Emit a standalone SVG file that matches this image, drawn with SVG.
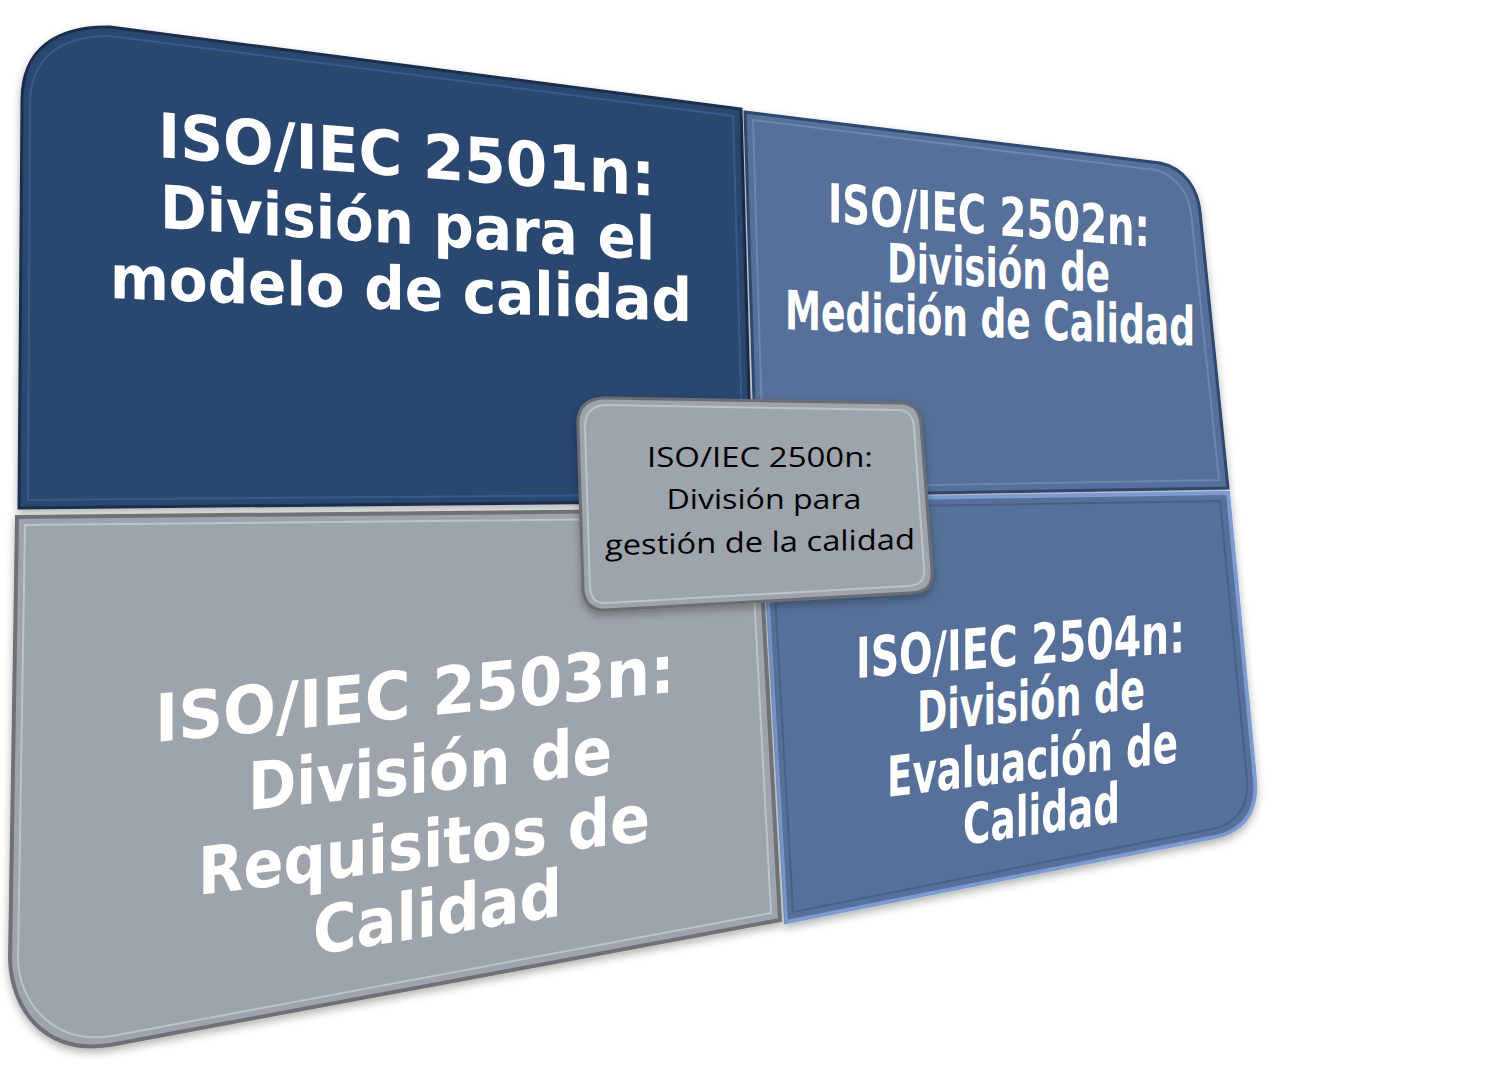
<svg xmlns="http://www.w3.org/2000/svg" width="1511" height="1079" viewBox="0 0 1511 1079">
<defs>
<style>
.t{fill:#fff;font-family:"DejaVu Sans",sans-serif;font-weight:bold}
.n{fill:#fff;font-family:"Liberation Sans Narrow","DejaVu Sans Condensed",sans-serif;font-weight:bold}
.c{fill:#000;font-family:"Open Sans","Noto Sans",sans-serif;font-size:28px}
.bev{fill:none;stroke-width:2;opacity:0.4}
</style>
<filter id="sh" x="-10%" y="-10%" width="120%" height="120%">
<feDropShadow dx="0" dy="4" stdDeviation="4" flood-color="#000" flood-opacity="0.3"/>
</filter>
</defs>
<g id="tl">
<path d="M22,100 C22,50 55,26 110,27 L741,109 L752,501 L19,508 Z" fill="#2A4770" stroke="#1B2E4D" stroke-width="3" filter="url(#sh)"/>
<path class="bev" d="M30,104 C30,58 60,36 110,36 L733,116 L744,494 L28,500 Z" stroke="#4A76BC"/>
<text class="t" transform="translate(158,157) skewY(4.5)" font-size="62" textLength="497" lengthAdjust="spacingAndGlyphs">ISO/IEC 2501n:</text>
<text class="t" transform="translate(160,228) skewY(3.7)" font-size="60" textLength="495" lengthAdjust="spacingAndGlyphs">División para el</text>
<text class="t" transform="translate(110,298) skewY(2.3)" font-size="60" textLength="582" lengthAdjust="spacingAndGlyphs">modelo de calidad</text>
</g>
<g id="tr">
<path d="M745,112 L1160,163 C1185,168 1198,190 1200,212 L1228,488 L757,496 Z" fill="#566F99" stroke="#2E4870" stroke-width="3" filter="url(#sh)"/>
<path class="bev" d="M753,120 L1156,170 C1177,176 1189,194 1191,214 L1219,480 L764,488 Z" stroke="#8AA8DA"/>
<text class="n" transform="translate(828,222) skewY(4.4)" font-size="54" textLength="322" lengthAdjust="spacingAndGlyphs">ISO/IEC 2502n:</text>
<text class="n" transform="translate(887,282) skewY(2.6)" font-size="54" textLength="223" lengthAdjust="spacingAndGlyphs">División de</text>
<text class="n" transform="translate(785,329) skewY(2.3)" font-size="54" textLength="410" lengthAdjust="spacingAndGlyphs">Medición de Calidad</text>
</g>
<g id="br">
<path d="M762,500 L1228,493 L1255,780 C1258,815 1240,832 1215,837 L786,922 Z" fill="#566F99" stroke="#7C9BD0" stroke-width="4" filter="url(#sh)"/>
<path class="bev" d="M770,508 L1220,501 L1247,780 C1249,810 1233,825 1212,829 L793,912 Z" stroke="#2E4870"/>
<text class="n" transform="translate(856,678) skewY(-4.5)" font-size="56" textLength="329" lengthAdjust="spacingAndGlyphs">ISO/IEC 2504n:</text>
<text class="n" transform="translate(917,732) skewY(-6)" font-size="56" textLength="228" lengthAdjust="spacingAndGlyphs">División de</text>
<text class="n" transform="translate(887,797) skewY(-6.9)" font-size="56" textLength="291" lengthAdjust="spacingAndGlyphs">Evaluación de</text>
<text class="n" transform="translate(963,845) skewY(-8.3)" font-size="56" textLength="157" lengthAdjust="spacingAndGlyphs">Calidad</text>
</g>
<g id="bl">
<path d="M17,517 L758,510 L780,920 L110,1045 C45,1055 12,1010 10,960 Z" fill="#9EA4AB" stroke="#6E7277" stroke-width="4" filter="url(#sh)"/>
<path class="bev" d="M25,525 L750,518 L771,913 L112,1036 C55,1045 20,1005 18,960 Z" stroke="#EEF2F8"/>
<text class="t" transform="translate(155,742) skewY(-5.5)" font-size="66" textLength="520" lengthAdjust="spacingAndGlyphs">ISO/IEC 2503n:</text>
<text class="t" transform="translate(248,810) skewY(-5.8)" font-size="66" textLength="364" lengthAdjust="spacingAndGlyphs">División de</text>
<text class="t" transform="translate(198,895) skewY(-6.9)" font-size="66" textLength="452" lengthAdjust="spacingAndGlyphs">Requisitos de</text>
<text class="t" transform="translate(313,955) skewY(-9)" font-size="66" textLength="249" lengthAdjust="spacingAndGlyphs">Calidad</text>
</g>
<g id="center">
<path d="M578,425 C577,405 590,398 605,398 L900,403 C915,403 920,412 921,425 L932,570 C933,588 925,592 910,593 L605,610 C590,611 584,600 583,590 Z" fill="#9EA4AB" stroke="#6A6E73" stroke-width="3" filter="url(#sh)"/>
<path class="bev" d="M585,426 C585,411 595,405 606,405 L898,410 C910,410 913,418 914,427 L924,568 C925,582 919,585 908,586 L606,603 C595,604 591,597 590,588 Z" stroke="#EEF2F8"/>
<text class="c" x="760" y="467" text-anchor="middle" textLength="226" lengthAdjust="spacingAndGlyphs">ISO/IEC 2500n:</text>
<text class="c" x="764" y="509" text-anchor="middle" textLength="195" lengthAdjust="spacingAndGlyphs">División para</text>
<text class="c" transform="translate(605,555) skewY(-1.1)" textLength="310" lengthAdjust="spacingAndGlyphs">gestión de la calidad</text>
</g>
</svg>
